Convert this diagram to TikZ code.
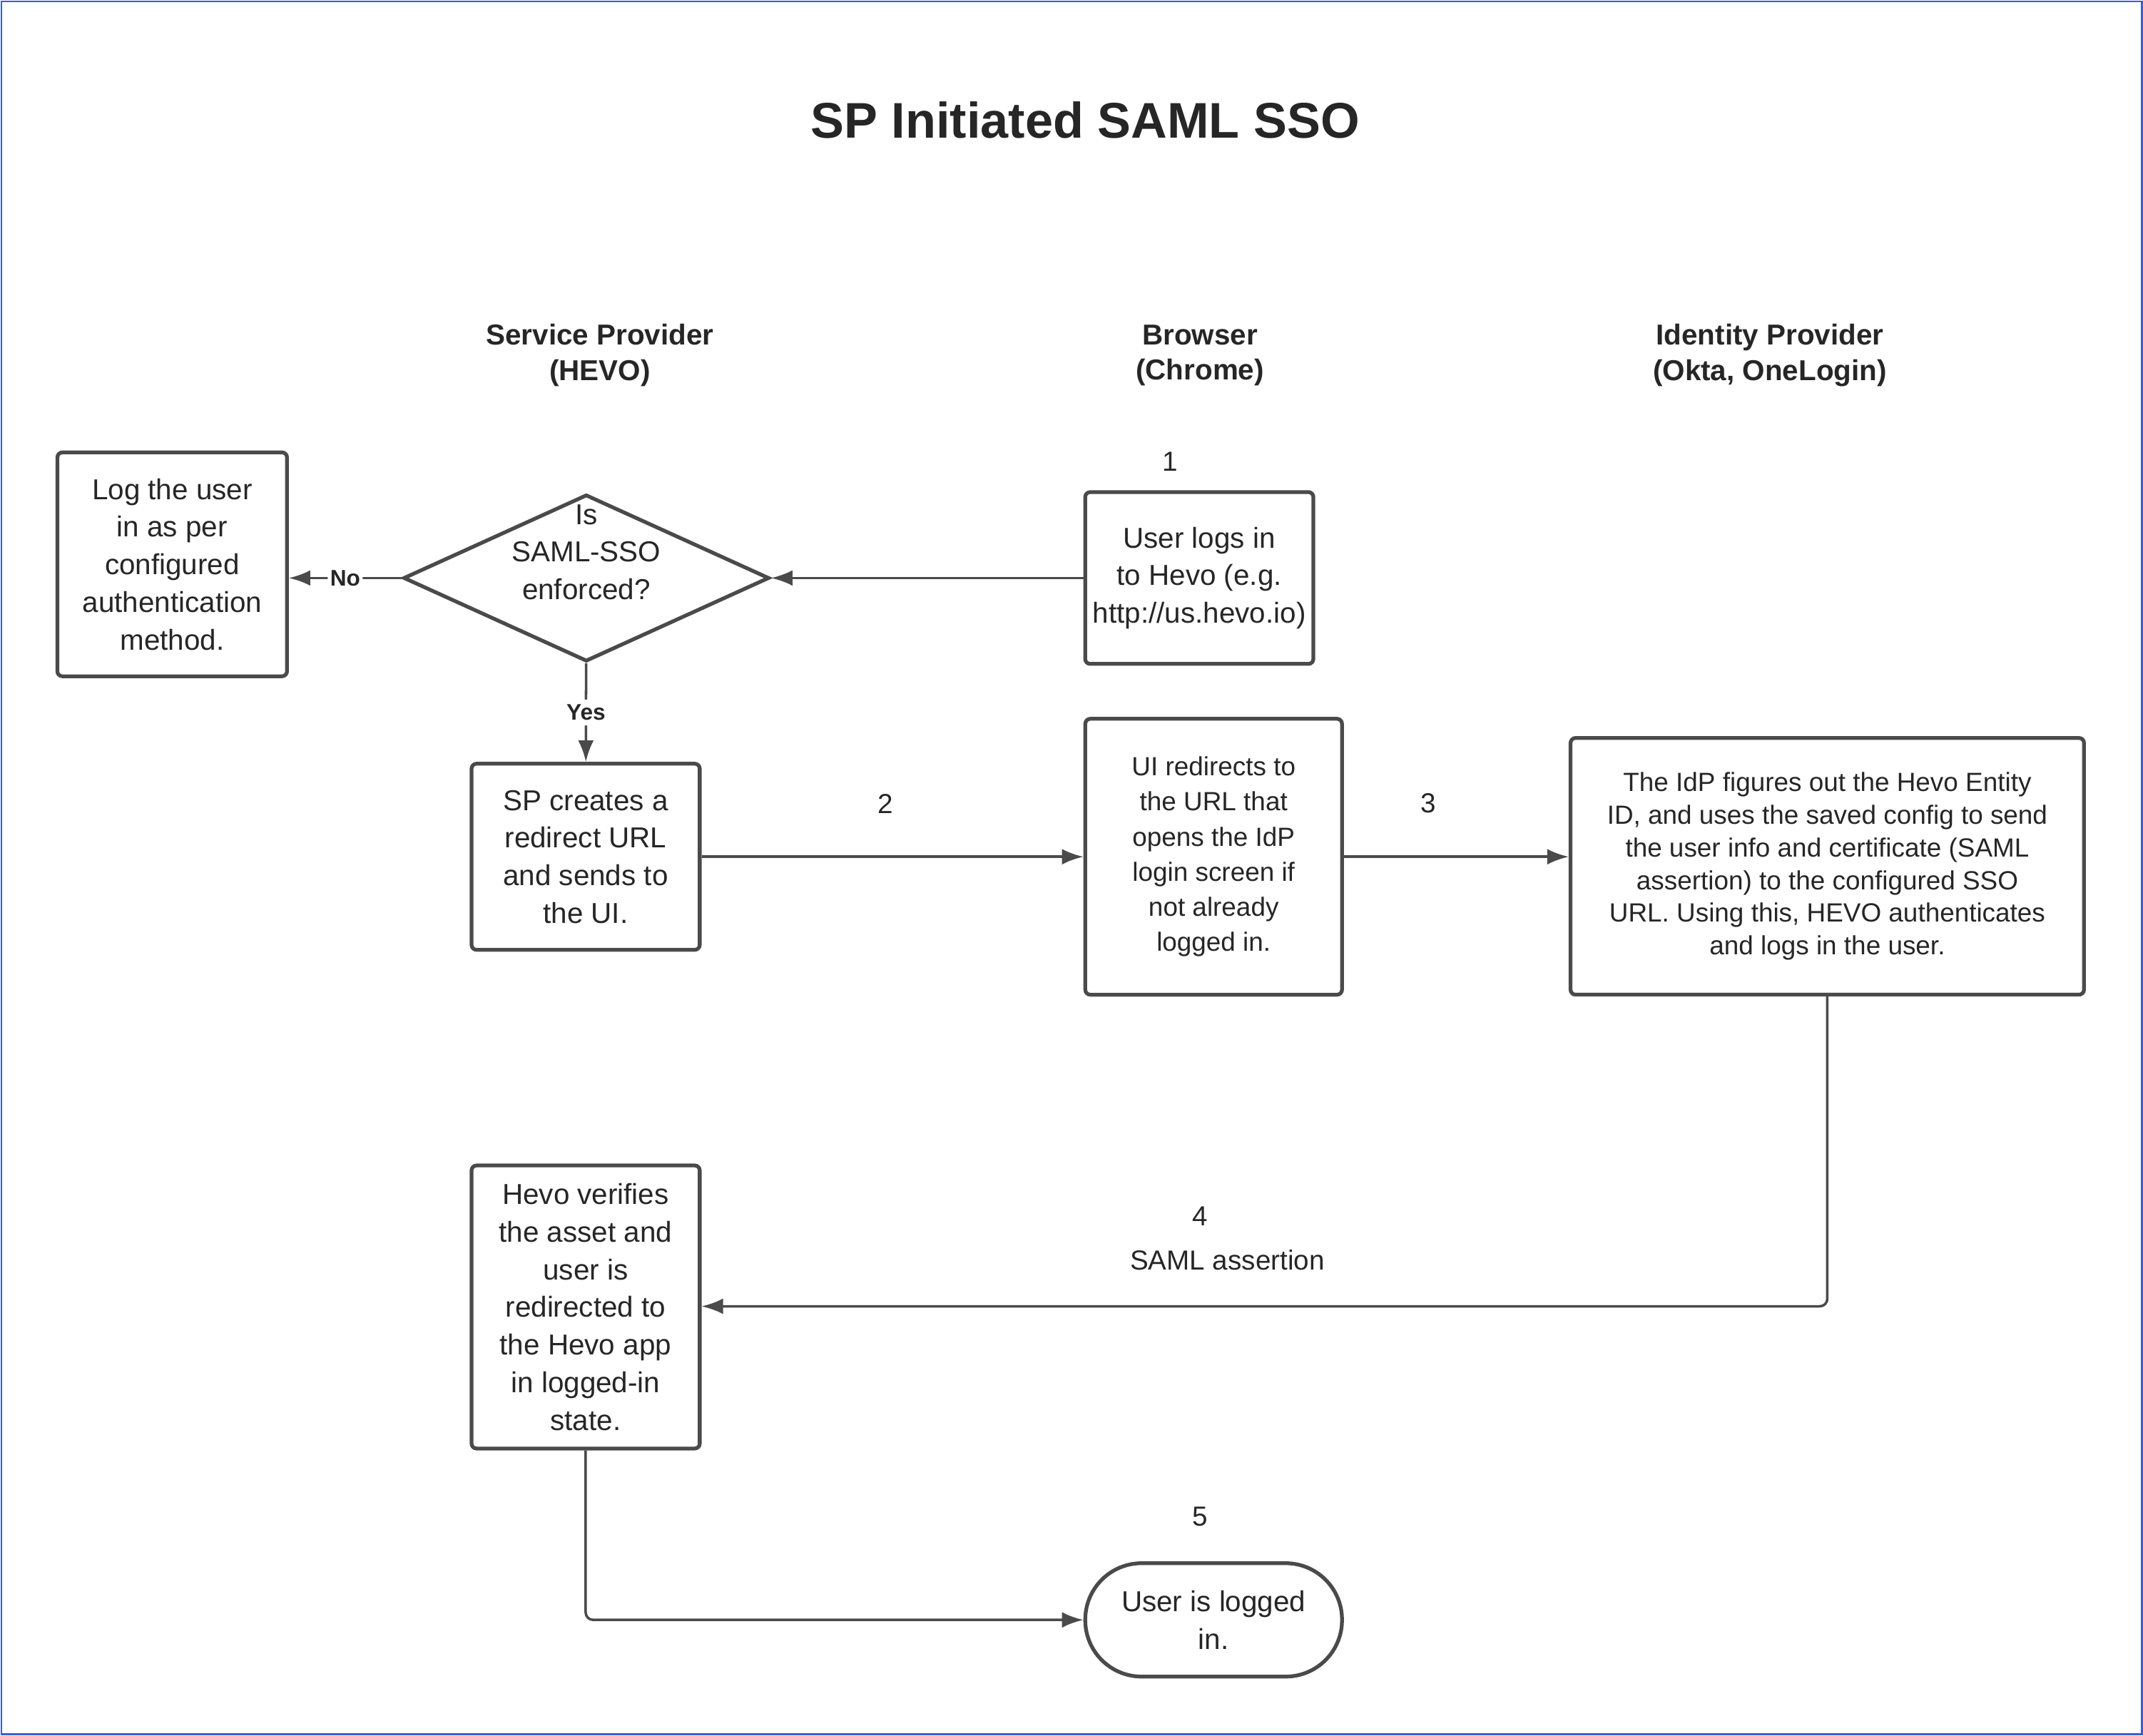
\documentclass[tikz,border=0pt]{standalone}
\usepackage{fontspec}
\setmainfont{Liberation Sans}
\usetikzlibrary{shapes.geometric, arrows.meta, positioning, calc}
\definecolor{linegray}{HTML}{4A4A4A}
\definecolor{framecol}{HTML}{3B5BDB}

\begin{document}
\begin{tikzpicture}[
    x=0.01916cm, y=-0.01916cm,
    every node/.style={font=\fontsize{11.5pt}{15pt}\selectfont, text=black!85},
    process/.style={rectangle, draw=linegray, line width=1.5pt, rounded corners=2pt, align=center, inner sep=1pt},
    decision/.style={diamond, draw=linegray, line width=1.5pt, inner sep=0pt},
    terminal/.style={rectangle, draw=linegray, line width=1.5pt, rounded corners=0.79cm, align=center, inner sep=1pt},
    lane/.style={font=\fontsize{11.5pt}{14pt}\selectfont\bfseries, align=center},
    lbl/.style={font=\fontsize{11pt}{14pt}\selectfont, align=center},
    arrow/.style={draw=linegray, line width=1pt, -{Latex[length=3mm, width=2.2mm]}, rounded corners=3pt}
]
    \draw[framecol, line width=0.8pt] (1,1) rectangle (1567,1269);
    \useasboundingbox (0,0) rectangle (1568,1270);

    \node[font=\fontsize{20pt}{23pt}\selectfont\bfseries] (title) at (794,88) {SP Initiated SAML SSO};

    \node[lane] (sp) at (439,260) {Service Provider\\(HEVO)};
    \node[lane] (br) at (878,260) {Browser\\(Chrome)};
    \node[lane] (idp) at (1295,260) {Identity Provider\\(Okta, OneLogin)};

    \node[process, minimum width=3.22cm, minimum height=3.14cm] (logbox) at (126,413)
        {Log the user\\in as per\\configured\\authentication\\method.};
    \node[decision, minimum width=5.13cm, minimum height=2.34cm] (saml) at (429,423) {};
    \node[align=center] (samltext) at (429,404) {Is\\SAML-SSO\\enforced?};
    \node[process, minimum width=3.20cm, minimum height=2.41cm] (login) at (877.5,423)
        {User logs in\\to Hevo (e.g.\\http://us.hevo.io)};
    \node[process, minimum width=3.20cm, minimum height=2.61cm] (redirect) at (428.5,627)
        {SP creates a\\redirect URL\\and sends to\\the UI.};
    \node[process, minimum width=3.60cm, minimum height=3.87cm, font=\fontsize{10.5pt}{14pt}\selectfont] (uiredir) at (888,627)
        {UI redirects to\\the URL that\\opens the IdP\\login screen if\\not already\\logged in.};
    \node[process, minimum width=7.20cm, minimum height=3.60cm, font=\fontsize{10.5pt}{13pt}\selectfont] (figure) at (1337,634)
        {The IdP figures out the Hevo Entity\\ID, and uses the saved config to send\\the user info and certificate (SAML\\assertion) to the configured SSO\\URL. Using this, HEVO authenticates\\and logs in the user.};
    \node[process, minimum width=3.20cm, minimum height=3.97cm] (verify) at (428.5,956.5)
        {Hevo verifies\\the asset and\\user is\\redirected to\\the Hevo app\\in logged-in\\state.};
    \node[terminal, minimum width=3.60cm, minimum height=1.59cm] (done) at (888,1185.5)
        {User is logged\\in.};

    \node[lbl] (n1) at (856,338) {1};
    \node[lbl] (n2) at (648,588) {2};
    \node[lbl] (n3) at (1045,588) {3};
    \node[lbl] (n4) at (878,890) {4};
    \node[lbl] (n4t) at (898,922) {SAML assertion};
    \node[lbl] (n5) at (878,1110) {5};

    \draw[arrow] (login) -- (saml);
    \draw[arrow] (saml.west) -- node[fill=white, inner sep=1pt, font=\fontsize{9pt}{11pt}\selectfont\bfseries] {No} (saml.west -| logbox.east);
    \draw[arrow] (saml) -- node[fill=white, inner sep=2pt, font=\fontsize{9pt}{11pt}\selectfont\bfseries] {Yes} (redirect);
    \draw[arrow] (redirect) -- (uiredir);
    \draw[arrow] (uiredir) -- (uiredir -| figure.west);
    \draw[arrow] (figure.south) |- (verify.east |- 0,956);
    \draw[arrow] (verify.south) |- (done.west);
\end{tikzpicture}
\end{document}
